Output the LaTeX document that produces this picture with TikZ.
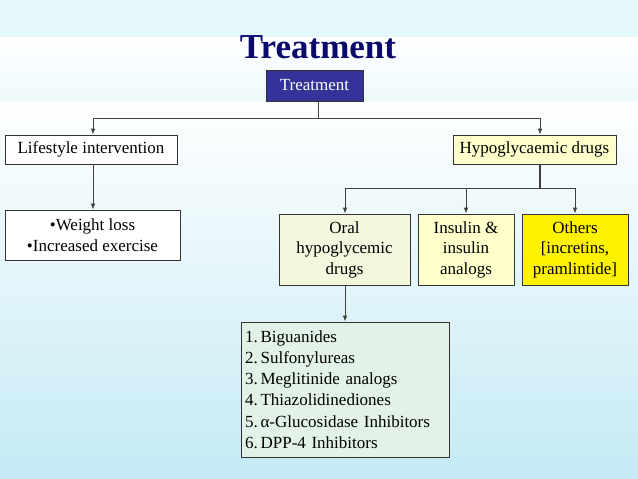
\documentclass[tikz,border=0pt]{standalone}
\usepackage{fontspec}
\setmainfont{Liberation Serif}
\usetikzlibrary{arrows.meta}
\definecolor{navy}{HTML}{333399}
\definecolor{ttl}{HTML}{0A0A6E}
\definecolor{lyel}{HTML}{FFFFCC}
\definecolor{oral}{HTML}{F4F6DE}
\definecolor{lst}{HTML}{E2F2E6}
\definecolor{topb}{HTML}{E4F8FC}
\definecolor{botb}{HTML}{C4EAF4}
\begin{document}
\begin{tikzpicture}[x=1pt,y=-1pt,
  box/.style={draw=black!80,line width=0.8pt,inner sep=0pt,font=\fontsize{17}{20.5}\selectfont,align=center},
  con/.style={draw=black!75,line width=0.8pt},
  arr/.style={con,-{Latex[length=6pt,width=4.5pt]}}]
\useasboundingbox (0,0) rectangle (638,479);
\shade[top color=white,bottom color=botb] (0,100) rectangle (638,479);
\shade[top color=white,bottom color=white!70!botb] (0,37) rectangle (638,100);
\fill[topb] (0,0) rectangle (638,37);
\node[font=\bfseries\fontsize{35}{37}\selectfont,text=ttl] (title) at (318,47) {Treatment};
\node[box,fill=navy,text=white,minimum width=97pt,minimum height=31pt] (t) at (314.5,85.5) {Treatment};
\node[box,fill=white,minimum width=172pt,minimum height=29pt] (l) at (91,149.5) {Lifestyle intervention};
\node[box,fill=lyel,minimum width=163pt,minimum height=29pt] (h) at (534.5,149.5) {Hypoglycaemic drugs};
\node[box,fill=white,minimum width=175pt,minimum height=50pt] (w) at (92.5,235) {•Weight loss\\•Increased exercise};
\node[box,fill=oral,minimum width=131pt,minimum height=71pt] (o) at (344.5,249.5) {Oral\\hypoglycemic\\drugs};
\node[box,fill=lyel,minimum width=96pt,minimum height=71pt] (i) at (466,249.5) {Insulin \&\\insulin\\analogs};
\node[box,fill=yellow,minimum width=106pt,minimum height=71pt] (ot) at (575,249.5) {Others\\{[}incretins,\\pramlintide{]}};
\node[box,fill=lst,text width=200pt,inner xsep=4pt,minimum height=135pt,align=left,font=\fontsize{17}{21.3}\selectfont] (li) at (345,389.5) {%
1.\,Biguanides\\2.\,Sulfonylureas\\3.\,Meglitinide analogs\\4.\,Thiazolidinediones\\5.\,α-Glucosidase Inhibitors\\6.\,DPP-4 Inhibitors};
\coordinate (j1) at (318,118);
\draw[con] (t.south -| j1) -- (j1);
\draw[arr] (j1) -| (l.north -| 93,0);
\draw[arr] (j1) -| (h.north -| 540,0);
\coordinate (j2) at (540,188);
\draw[con,line width=1.4pt] (h.south -| j2) -- (j2);
\draw[arr] (j2) -| (o.north -| 345,0);
\draw[arr] (j2) -- (466,188) -- (i.north -| 466,0);
\draw[arr] (j2) -| (ot.north -| 575,0);
\draw[arr] (l.south -| 93,0) -- (w.north -| 93,0);
\draw[arr] (o.south -| 345,0) -- (li.north -| 345,0);
\end{tikzpicture}
\end{document}
